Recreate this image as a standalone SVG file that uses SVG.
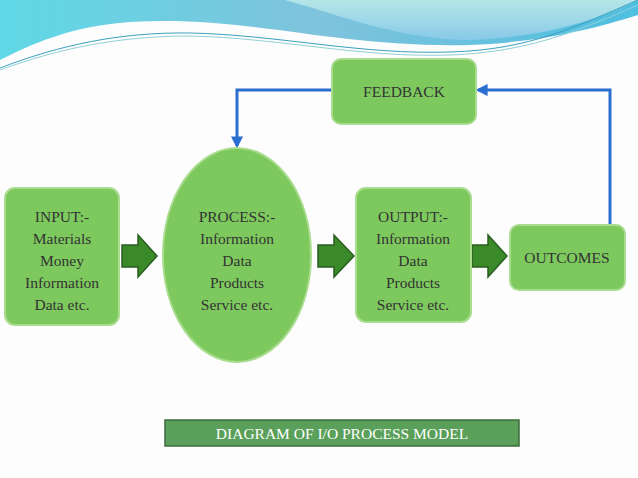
<svg xmlns="http://www.w3.org/2000/svg" width="638" height="478" viewBox="0 0 638 478">
<style>
.n{fill:#7dc95e;stroke:#a9dc8f;stroke-width:2}
.t{font-family:"Liberation Serif",serif;font-size:15.5px;fill:#333;text-anchor:middle}
.ba{fill:#3a8a2a;stroke:#2a5e22;stroke-width:1.5}
.c{fill:none;stroke:#2a6fcf;stroke-width:3}
</style>
<defs>
<linearGradient id="w1" x1="0" y1="0" x2="1" y2="0"><stop offset="0" stop-color="#5fd8e6"/><stop offset="0.5" stop-color="#7fc3dc"/><stop offset="1" stop-color="#4fbfe0"/></linearGradient>
<linearGradient id="w2" x1="0" y1="0" x2="0" y2="1"><stop offset="0" stop-color="#b4e6e8"/><stop offset="1" stop-color="#88c9e8"/></linearGradient>
<marker id="ah" viewBox="0 0 10 10" refX="8" refY="5" markerWidth="4" markerHeight="4" orient="auto"><path d="M0,0 L10,5 L0,10 Z" fill="#2a6fcf"/></marker>
</defs>
<rect width="638" height="478" fill="#fdfdfd"/>
<path d="M0,0 H638 V15 C590,30 540,42 470,45 C330,48 250,15 130,22 C70,26 30,45 0,60 Z" fill="url(#w1)"/>
<path d="M285,0 H638 C600,20 540,38 470,40 C400,40 340,15 285,0 Z" fill="url(#w2)"/>
<path d="M0,68 C60,45 120,32 190,33 C280,35 360,55 450,52 C530,50 580,25 638,0" fill="none" stroke="#3aa0c0" stroke-width="1"/>
<path d="M0,70 C60,48 120,36 190,36 C280,38 360,58 450,55 C530,52 580,30 638,5" fill="none" stroke="#8fd0d8" stroke-width="1"/>
<g id="connectors">
<polyline class="c" points="610,225 610,90 478,90" marker-end="url(#ah)"/>
<polyline class="c" points="332,90 237,90 237,146" marker-end="url(#ah)"/>
<path class="ba" d="M122,245 H138 V235 L157,256 L138,277 V267 H122 Z"/>
<path class="ba" d="M318,245 H334 V235 L354,256 L334,277 V267 H318 Z"/>
<path class="ba" d="M472,245 H488 V235 L507,256 L488,277 V267 H472 Z"/>
</g>
<g id="feedback"><rect class="n" x="332" y="59" width="144" height="65" rx="9"/><text class="t" x="404" y="97">FEEDBACK</text></g>
<g id="input"><rect class="n" x="5" y="188" width="114" height="137" rx="10"/>
<text class="t" x="62" y="222">INPUT:-</text><text class="t" x="62" y="244">Materials</text><text class="t" x="62" y="266">Money</text><text class="t" x="62" y="288">Information</text><text class="t" x="62" y="310">Data etc.</text></g>
<g id="process"><ellipse class="n" cx="237" cy="255" rx="74" ry="107"/>
<text class="t" x="237" y="222">PROCESS:-</text><text class="t" x="237" y="244">Information</text><text class="t" x="237" y="266">Data</text><text class="t" x="237" y="288">Products</text><text class="t" x="237" y="310">Service etc.</text></g>
<g id="output"><rect class="n" x="356" y="188" width="115" height="134" rx="10"/>
<text class="t" x="413" y="222">OUTPUT:-</text><text class="t" x="413" y="244">Information</text><text class="t" x="413" y="266">Data</text><text class="t" x="413" y="288">Products</text><text class="t" x="413" y="310">Service etc.</text></g>
<g id="outcomes"><rect class="n" x="510" y="225" width="115" height="65" rx="9"/><text class="t" x="567" y="263">OUTCOMES</text></g>
<g id="title"><rect x="165" y="420" width="354" height="26" fill="#5aa05a" stroke="#3d6b3d" stroke-width="1.5"/><text class="t" x="342" y="439" style="fill:#fff">DIAGRAM  OF I/O PROCESS MODEL</text></g>
</svg>
